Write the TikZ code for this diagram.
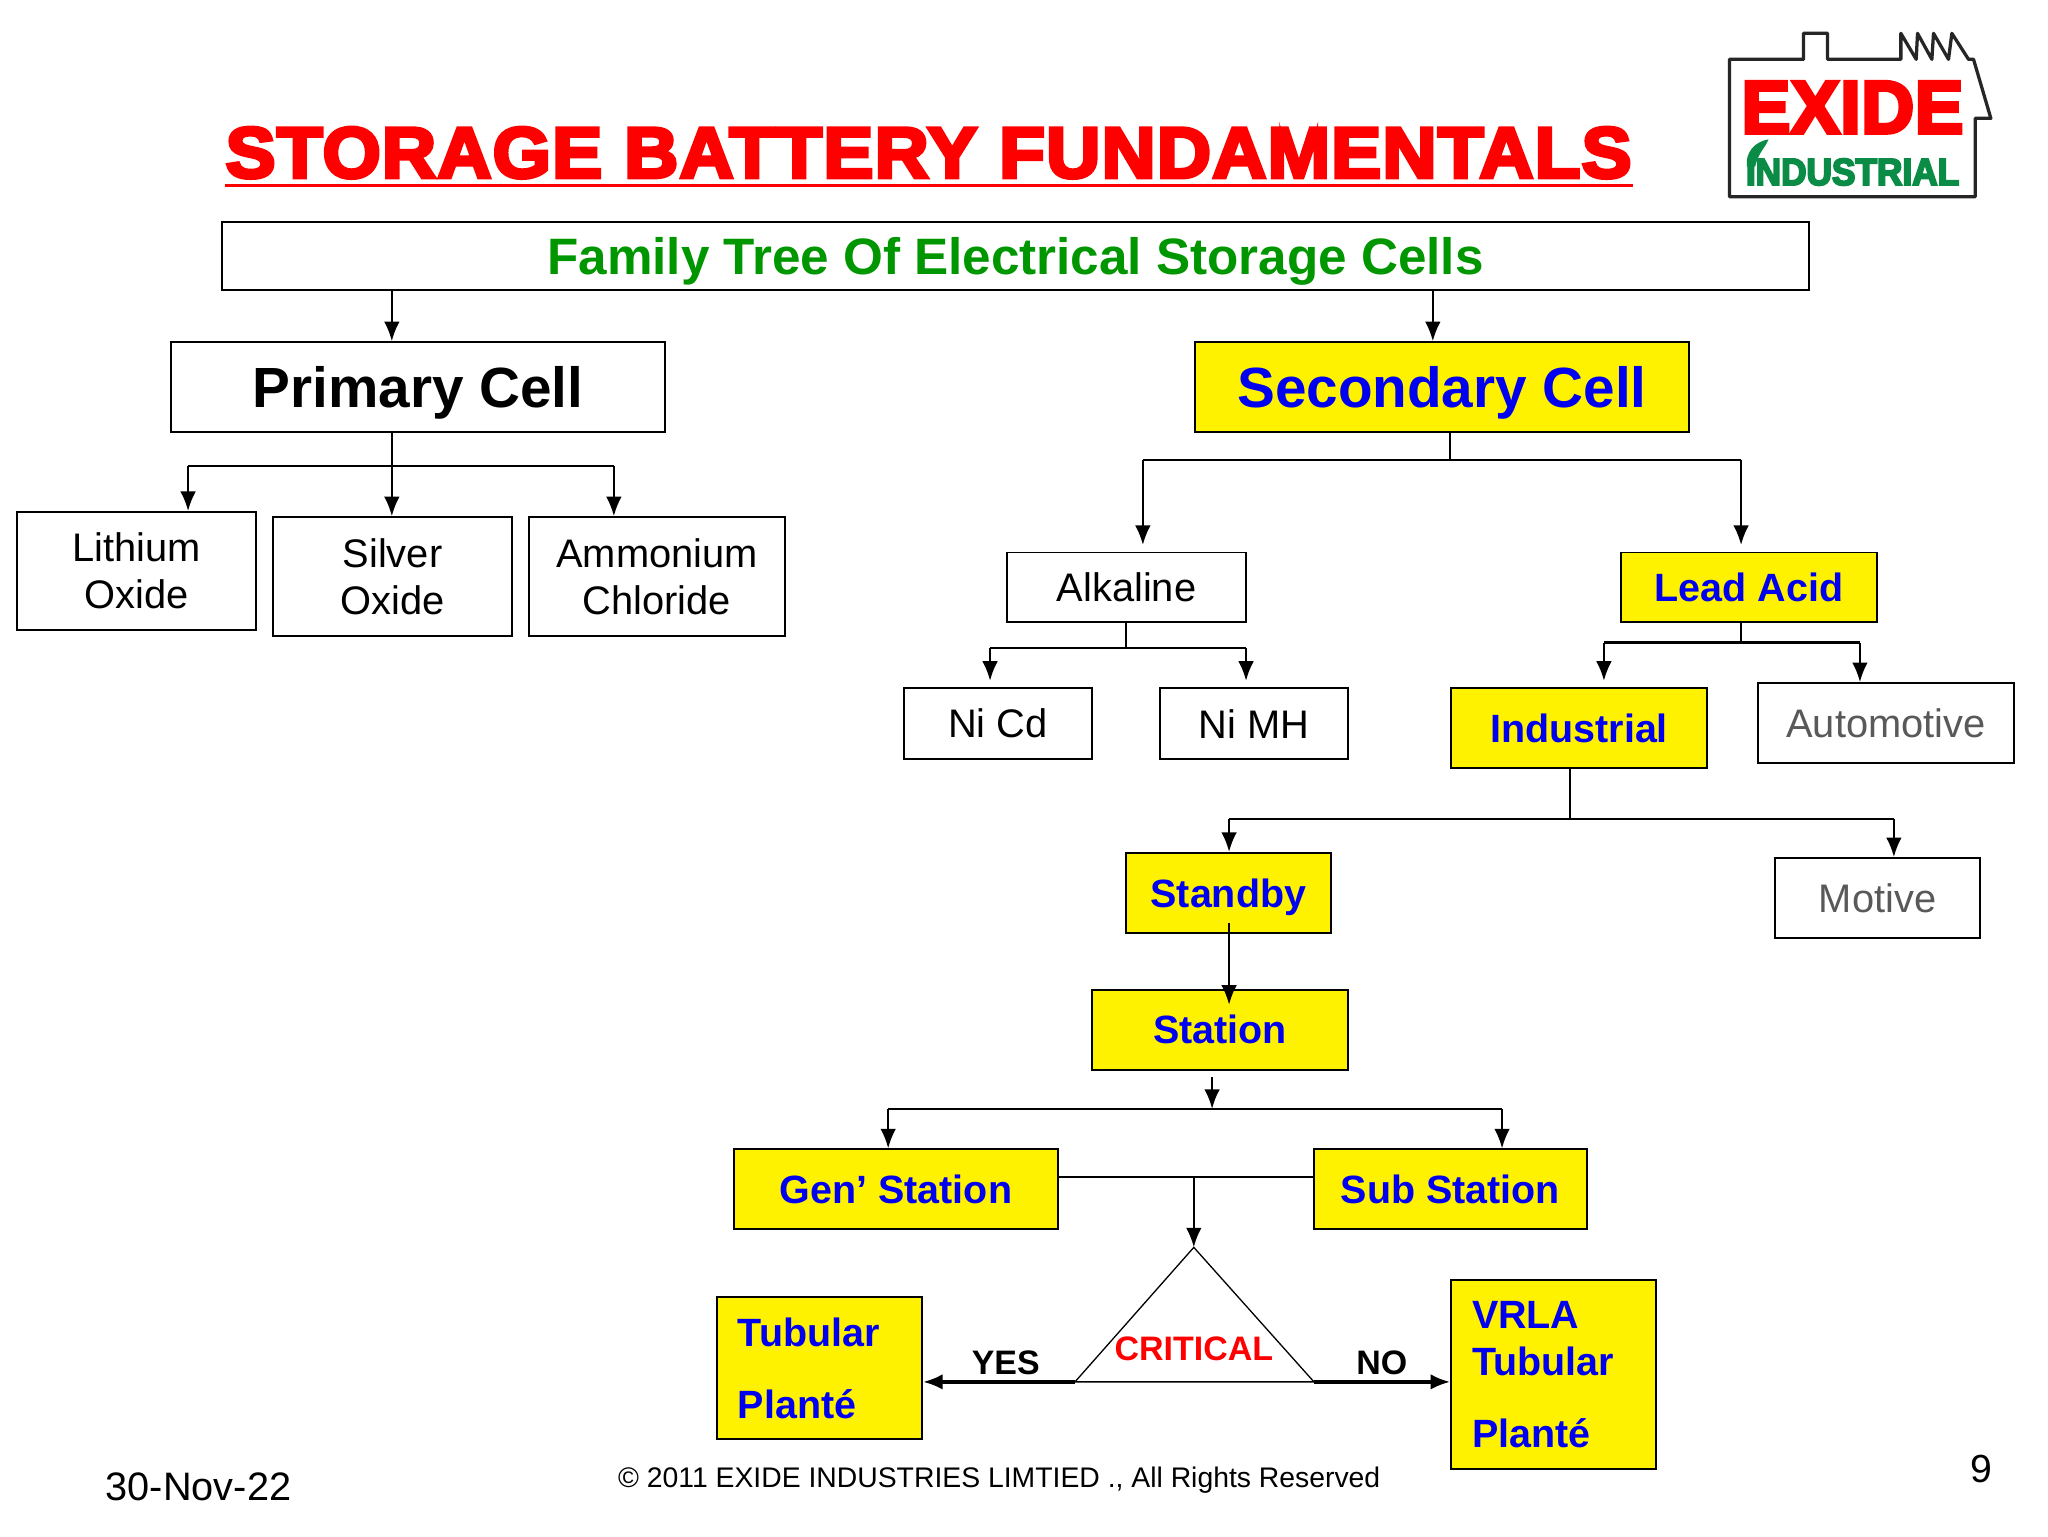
\documentclass[tikz,border=0pt]{standalone}
\usepackage{fontspec}
\usepackage{xcolor}
\setmainfont{Liberation Sans}
\newfontfamily\titlefont[FakeBold=5,FakeStretch=1.042,LetterSpace=1.8]{Liberation Sans Bold}
\newfontfamily\exidefont[FakeBold=5,FakeStretch=0.98,LetterSpace=1]{Liberation Sans Bold}
\newfontfamily\logofont[FakeBold=5,FakeStretch=0.93]{Liberation Sans Bold}
\usetikzlibrary{arrows.meta}
\definecolor{cellblue}{RGB}{0,0,240}
\definecolor{cellgreen}{RGB}{0,150,0}
\definecolor{cellgray}{RGB}{89,89,89}
\definecolor{logogreen}{RGB}{10,140,70}
\newcommand{\fsz}[2]{\fontsize{#1}{#2}\selectfont}
\tikzset{>={Latex[length=15pt,width=12pt]}}
\tikzset{
	cellbox/.style={draw=black, line width=1.5pt, inner sep=0pt, align=center, font=\fsz{30.5}{36}},
	yesbox/.style={cellbox, fill=yellow, text=cellblue, font=\bfseries\fsz{30.2}{36}},
	greybox/.style={cellbox, text=cellgray},
	leftbox/.style={yesbox, inner xsep=16pt, text width=125pt, align=left},
	link/.style={line width=1.8pt, draw=black},
	conn/.style={link, ->},
	tag/.style={inner sep=0pt, font=\bfseries\fsz{26}{26}},
}

\begin{document}
\begin{tikzpicture}[x=1pt, y=-1pt]
	
	\useasboundingbox (0,0) rectangle (1568,1176);
	\fill[white] (0,0) rectangle (1568,1176);
	
	%% Title
	\node[inner sep=0pt, text=red, font=\titlefont\fsz{55}{55}] (title) at (711,117) {STORAGE BATTERY FUNDAMENTALS};
	\coordinate[](ula) at (172,142);
	\coordinate[](ulb) at (1250,142);
	\draw[line width=3pt, red] (ula) -- (ulb);
	
	% Top box
	\node[cellbox, minimum width=1215, minimum height=52, text depth=0pt, text=cellgreen, font=\bfseries\fsz{39.2}{40}] (family) at (777.5,196) {Family Tree Of Electrical Storage Cells};
	
	% Cells
	\node[cellbox, minimum width=378, minimum height=69, text depth=0pt, font=\bfseries\fsz{43.4}{46}] (primary) at (320,296.5) {Primary Cell};
	\node[yesbox, minimum width=378, minimum height=69, text depth=0pt, font=\bfseries\fsz{43.4}{46}] (secondary) at (1104,296.5) {Secondary Cell};
	
	\node[cellbox, minimum width=183, minimum height=90] (lithium) at (104.5,437) {Lithium\\Oxide};
	\node[cellbox, minimum width=183, minimum height=91] (silver) at (300.5,441.5) {Silver\\Oxide};
	\node[cellbox, minimum width=196, minimum height=91] (ammonium) at (503,441.5) {Ammonium\\Chloride};
	
	\node[cellbox, minimum width=183, minimum height=53] (alkaline) at (862.5,449.5) {Alkaline};
	\node[yesbox, minimum width=196, minimum height=53] (leadacid) at (1339,449.5) {Lead Acid};
	\node[cellbox, minimum width=144, minimum height=54] (nicd) at (764,554) {Ni Cd};
	\node[cellbox, minimum width=144, minimum height=54] (nimh) at (960,554) {Ni MH};
	\node[yesbox, minimum width=196, minimum height=61] (industrial) at (1209,557.5) {Industrial};
	\node[greybox, minimum width=196, minimum height=61] (automotive) at (1444,553.5) {Automotive};
	
	\node[yesbox, minimum width=157, minimum height=61, text depth=0pt] (standby) at (940.5,683.5) {Standby};
	\node[greybox, minimum width=157, minimum height=61] (motive) at (1437.5,687.5) {Motive};
	\node[yesbox, minimum width=196, minimum height=61] (station) at (934,788.5) {Station};
	\node[yesbox, minimum width=248, minimum height=61] (genstation) at (686,910.5) {Gen’ Station};
	\node[yesbox, minimum width=209, minimum height=61] (substation) at (1110.5,910.5) {Sub Station};
	
	\node[leftbox, minimum height=109] (tubular) at (627.5,1047.5) {Tubular\\[19pt]Planté};
	\node[leftbox, minimum height=145] (vrla) at (1189.5,1052.5) {VRLA\\Tubular\\[19pt]Planté};
	
	%% Junctions
	\coordinate[](fl) at (300,240);
	\coordinate[](fr) at (1097,240);
	
	\coordinate[](pl) at (144,357);
	\coordinate[](pm) at (300,357);
	\coordinate[](pr) at (470,357);
	
	\coordinate[](sl) at (875,352);
	\coordinate[](sm) at (1110,352);
	\coordinate[](sr) at (1333,352);
	
	\coordinate[](al) at (758,496);
	\coordinate[](am) at (862,496);
	\coordinate[](ar) at (954,496);
	
	\coordinate[](ll) at (1228,492);
	\coordinate[](lm) at (1333,492);
	\coordinate[](lr) at (1424,492);
	
	\coordinate[](il) at (941,627);
	\coordinate[](im) at (1202,627);
	\coordinate[](ir) at (1450,627);
	
	\coordinate[](tl) at (680,849);
	\coordinate[](tm) at (928,849);
	\coordinate[](tr) at (1150,849);
	
	\coordinate[](gm) at (914,901);
	
	% Triangle
	\coordinate[](apex) at (914,955);
	\coordinate[](basel) at (823,1058);
	\coordinate[](baser) at (1006,1058);
	\draw[line width=1pt, draw=black] (apex) -- (basel) -- (baser) -- cycle;
	\node[tag, text=red] (critical) at (914,1033) {CRITICAL};
	\node[tag] (yes) at (770,1043) {YES};
	\node[tag] (no) at (1058,1043) {NO};
	
	%% Links
	\foreach \j/\k in {fl/primary,fr/secondary}
	{
	\draw[conn] (family.south -| \j) -- (\k.north -| \j);
	}
	
	\draw[link] (primary.south -| pm) -- (pm);
	\draw[link] (pl) -- (pr);
	\foreach \j/\k in {pl/lithium,pm/silver,pr/ammonium}
	{
	\draw[conn] (\j) -- (\k.north -| \j);
	}
	
	\draw[link] (secondary.south -| sm) -- (sm);
	\draw[link] (sl) -- (sr);
	\foreach \j/\k in {sl/alkaline,sr/leadacid}
	{
	\draw[conn, shorten >=5pt] (\j) -- (\k.north -| \j);
	}
	
	\draw[link] (alkaline.south -| am) -- (am);
	\draw[link] (al) -- (ar);
	\foreach \j/\k in {al/nicd,ar/nimh}
	{
	\draw[conn, shorten >=5pt] (\j) -- (\k.north -| \j);
	}
	
	\draw[link] (leadacid.south -| lm) -- (lm);
	\draw[link] (ll) -- (lr);
	\draw[conn, shorten >=5pt] (ll) -- (industrial.north -| ll);
	\draw[conn] (lr) -- (automotive.north -| lr);
	
	\draw[link] (industrial.south -| im) -- (im);
	\draw[link] (il) -- (ir);
	\draw[conn] (il) -- (standby.north -| il);
	\draw[conn] (ir) -- (motive.north -| ir);
	
	\draw[conn, shorten <=-8pt, shorten >=-12pt] (standby.south -| il) -- (station.north -| il);
	
	\draw[conn, shorten <=5pt] (station.south -| tm) -- (tm);
	\draw[link] (tl) -- (tr);
	\draw[conn] (tl) -- (genstation.north -| tl);
	\draw[conn] (tr) -- (substation.north -| tr);
	
	\draw[link] (genstation.east |- gm) -- (substation.west |- gm);
	\draw[conn] (gm) -- (apex);
	
	\draw[conn, line width=2.5pt] (basel) -- (tubular.east |- basel);
	\draw[conn, line width=2.5pt] (baser) -- (vrla.west |- baser);
	
	%% Footer
	\node[inner sep=0pt, font=\fsz{30.4}{30}] (date) at (152,1138) {30-Nov-22};
	\node[inner sep=0pt, font=\fsz{21.7}{23}] (rights) at (765,1133) {© 2011 EXIDE INDUSTRIES LIMTIED ., All Rights Reserved};
	\node[inner sep=0pt, font=\fsz{30}{30}] (page) at (1517,1125) {9};
	
	%% Logo
	\begin{scope}[shift={(1301.7,0)}, x=0.2552pt, y=-0.2552pt]
	\draw[line width=2.5pt, draw=black!85, line join=round]
	(88,178) -- (310,178) -- (310,100) -- (382,100) -- (382,178) -- (602,178) -- (602,100)
	-- (648,178) -- (652,100) -- (695,178) -- (700,100) -- (745,178) -- (755,100)
	-- (805,178) -- (820,178) -- (872,355) -- (825,355) -- (825,590) -- (88,590) -- cycle;
	\node[inner sep=0pt, text=red, font=\exidefont\fsz{57}{57}] (exide) at (457,322) {EXIDE};
	\node[inner sep=0pt, text=logogreen, font=\logofont\fsz{29}{29}] (indust) at (457,516) {INDUSTRIAL};
	\fill[logogreen] (140,500) .. controls (135,455) and (165,425) .. (205,418)
	.. controls (195,445) and (175,455) .. (165,500) -- cycle;
	\end{scope}
		
\end{tikzpicture}
\end{document}
